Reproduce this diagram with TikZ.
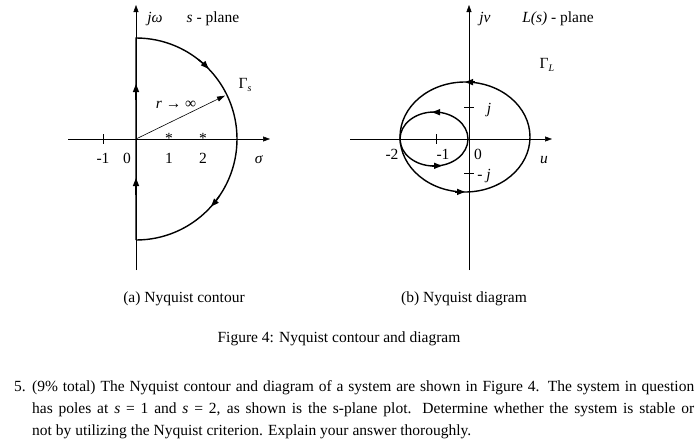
\documentclass[tikz,border=0pt]{standalone}
\usepackage{fontspec}
\setmainfont{Liberation Serif}
\usetikzlibrary{arrows.meta}
\begin{document}
\begin{tikzpicture}[x=1pt,y=-1pt,font=\fontsize{15.5}{18}\selectfont,
  ax/.style={line width=0.5pt,-{Triangle[length=7pt,width=5pt]}},
  cur/.style={line width=1.4pt},
  tip/.style={-{Triangle[length=8pt,width=6pt]}},
  lab/.style={inner sep=0pt,anchor=base}]
\useasboundingbox (0,0) rectangle (700,442);
% left plot
\coordinate (O) at (136,139);
\draw[ax] (68,139) -- (270,139);
\draw[ax] (136,270) -- (136,5);
\draw (103,134)--(103,144);
\node[lab] at (169,143) {*};
\node[lab] at (203,143) {*};
\draw[cur] (136,240) -- (136,38) arc[start angle=90,end angle=-90,radius=101pt];
\draw[cur,tip] (136,100) -- (136,84);
\draw[cur,tip] (136,195) -- (136,178);
\draw[cur,tip] ([shift={(-52:101)}]O) arc[start angle=52,end angle=44,radius=101pt];
\draw[cur,tip] ([shift={(34:101)}]O) arc[start angle=-34,end angle=-42,radius=101pt];
\draw[line width=0.6pt,-{Triangle[length=8pt,width=5pt]}] (O) -- ++(-26:99);
\node[lab] at (103,163) {-1};
\node[lab] at (127,163) {0};
\node[lab] at (169,163) {1};
\node[lab] at (203,163) {2};
\node[lab] at (259,163) {\textit{σ}};
\node[lab] at (155,22) {\textit{jω}};
\node[lab] at (213,22) {\textit{s} - plane};
\node[lab] at (245,88) {Γ\raisebox{-3pt}{\fontsize{10}{10}\selectfont\textit{s}}};
\node[lab] at (176,108) {\textit{r} → ∞};
% right plot
\draw[ax] (350,139) -- (552,139);
\draw[ax] (469,270) -- (469,5);
\draw (464,107)--(474,107);
\draw (464,173)--(474,173);
\draw (436,134)--(436,144);
\draw[cur] (465,137) ellipse[x radius=65,y radius=55];
\draw[cur] (434,139) ellipse[x radius=34,y radius=27];
\draw[cur,tip] (475,82.1) -- (465,82.1);
\draw[cur,tip] (455,191.9) -- (465,191.9);
\draw[cur,tip] (442,112.2) -- (432,112.2);
\draw[cur,tip] (432,165.8) -- (442,165.8);
\node[lab] at (392,159) {-2};
\node[lab] at (443,159) {-1};
\node[lab] at (478,159) {0};
\node[lab] at (544,163) {\textit{u}};
\node[lab] at (489,113) {\textit{j}};
\node[lab] at (484,179) {- \textit{j}};
\node[lab] at (485,22) {\textit{jv}};
\node[lab] at (558,22) {\textit{L(s)} - plane};
\node[lab] at (547,68) {Γ\raisebox{-3pt}{\fontsize{10}{10}\selectfont\textit{L}}};
% captions
\node[lab] at (184,302) {(a) Nyquist contour};
\node[lab] at (464,302) {(b) Nyquist diagram};
\node[lab] at (339,342) {Figure 4: Nyquist contour and diagram};
\node[inner sep=0pt,anchor=base west] at (14,391) {5.};
\node[inner sep=0pt,anchor=base west] at (32,391) {\parbox{662pt}{\parfillskip=0pt (9\% total) The Nyquist contour and diagram of a system are shown in Figure 4. The system in question}};
\node[inner sep=0pt,anchor=base west] at (32,413) {\parbox{662pt}{\parfillskip=0pt has poles at \textit{s} = 1 and \textit{s} = 2, as shown is the s-plane plot. Determine whether the system is stable or}};
\node[inner sep=0pt,anchor=base west] at (32,435) {not by utilizing the Nyquist criterion. Explain your answer thoroughly.};
\end{tikzpicture}
\end{document}
